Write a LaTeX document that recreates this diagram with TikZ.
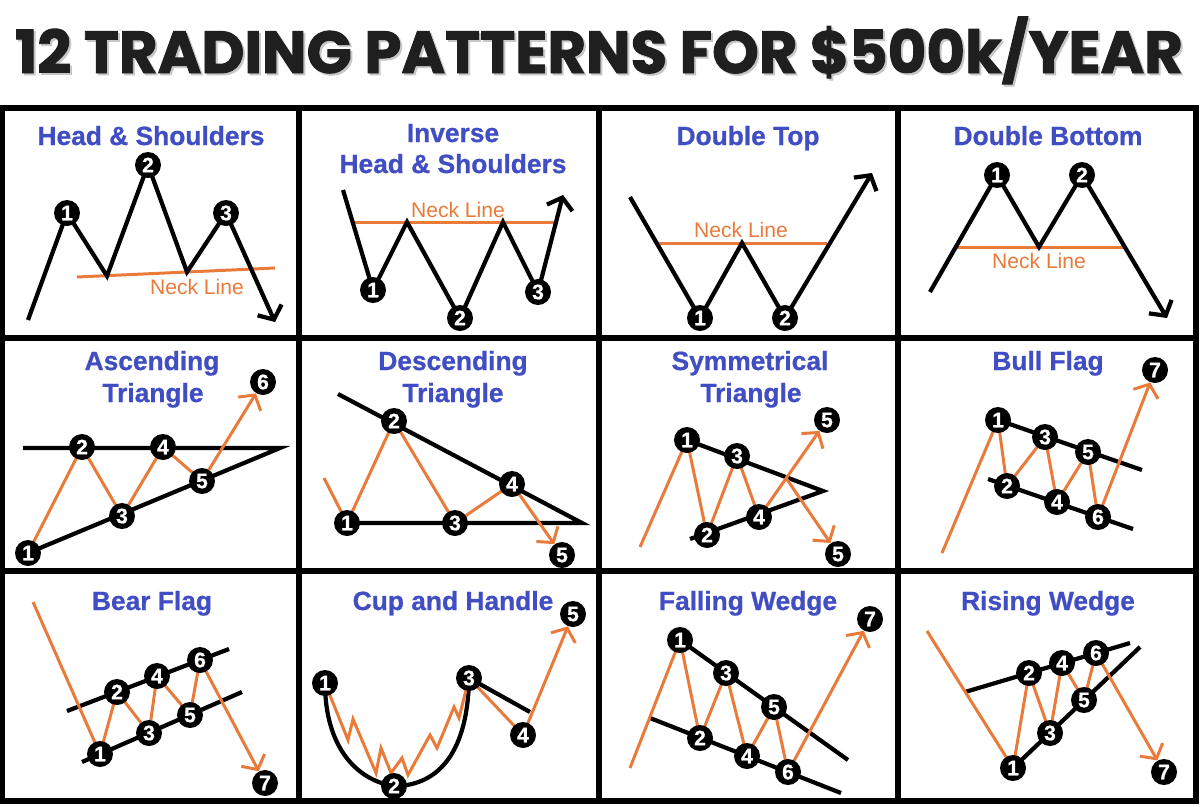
\documentclass[tikz,border=0pt]{standalone}
\usepackage{fontspec}
\setmainfont{Liberation Sans}[BoldFeatures={FakeBold=0.8}]
\newfontfamily\headfont{Poppins}[BoldFeatures={FakeBold=1.6}]
\usetikzlibrary{arrows.meta,positioning}
\definecolor{pblue}{RGB}{65,78,195}
\definecolor{porange}{RGB}{234,122,58}
\pgfdeclarelayer{bg}
\pgfsetlayers{bg,main}

\begin{document}
\begin{tikzpicture}[x=0.02cm,y=-0.02cm,
    ttl/.style={anchor=base,inner sep=0,text=pblue,font=\fontsize{15}{18}\selectfont\bfseries},
    neck/.style={anchor=base,inner sep=0,text=porange,font=\fontsize{12}{14}\selectfont},
    pt/.style={circle,fill=black,text=white,inner sep=0,minimum size=0.52cm,font=\fontsize{12}{12}\selectfont\bfseries},
    blk/.style={line width=2.4pt},
    org/.style={line width=1.7pt,draw=porange},
    arr/.style={-{Straight Barb[length=6pt,width=15pt]}},
    frame/.style={line width=2.9pt}]
    \useasboundingbox (0,0) rectangle (1200,806);

    % title
    \node[anchor=base,inner sep=0,text=black!22] (mainS) at (601,75) {\resizebox{23.36cm}{!}{\headfont\bfseries 12 TRADING PATTERNS FOR \$500k/YEAR}};
    \node[anchor=base,inner sep=0,text=black!88] (mainT) at (599,73) {\resizebox{23.36cm}{!}{\headfont\bfseries 12 TRADING PATTERNS FOR \$500k/YEAR}};

    % head & shoulders
    \node[ttl] (hsT) at (151,145) {Head \& Shoulders};
    \node[pt] (hs1) at (67,213) {1};
    \node[pt] (hs2) at (148,165) {2};
    \node[pt] (hs3) at (226,213) {3};
    \coordinate (hs0) at (28,320);
    \coordinate (hsa) at (107,276);
    \coordinate (hsb) at (187,272);
    \coordinate (hsE) at (275,322);
    \coordinate (hsN1) at (77,277);
    \coordinate (hsN2) at (275,268);
    \node[neck] (hsL) at (197,294) {Neck Line};

    % inverse head & shoulders
    \node[ttl] (ihT1) at (453,142) {Inverse};
    \node[ttl] (ihT2) at (453,173) {Head \& Shoulders};
    \node[pt] (ih1) at (373,290) {1};
    \node[pt] (ih2) at (460,318) {2};
    \node[pt] (ih3) at (538,292) {3};
    \coordinate (ih0) at (343,190);
    \coordinate (iha) at (407,222);
    \coordinate (ihb) at (503,222);
    \coordinate (ihE) at (563,195);
    \coordinate (ihN1) at (352,222);
    \coordinate (ihN2) at (555,222);
    \node[neck] (ihL) at (458,217) {Neck Line};

    % double top
    \node[ttl] (dtT) at (748,145) {Double Top};
    \node[pt] (dt1) at (700,318) {1};
    \node[pt] (dt2) at (785,318) {2};
    \coordinate (dt0) at (630,197);
    \coordinate (dta) at (742,243);
    \coordinate (dtE) at (872,173);
    \coordinate (dtN1) at (657,243);
    \coordinate (dtN2) at (827,243);
    \node[neck] (dtL) at (741,237) {Neck Line};

    % double bottom
    \node[ttl] (dbT) at (1048,145) {Double Bottom};
    \node[pt] (db1) at (997,175) {1};
    \node[pt] (db2) at (1082,175) {2};
    \coordinate (db0) at (930,292);
    \coordinate (dba) at (1039,247);
    \coordinate (dbE) at (1167,318);
    \coordinate (dbN1) at (955,247);
    \coordinate (dbN2) at (1123,247);
    \node[neck] (dbL) at (1039,268) {Neck Line};

    % ascending triangle
    \node[ttl] (atT1) at (152,370) {Ascending};
    \node[ttl] (atT2) at (153,402) {Triangle};
    \node[pt] (at1) at (28,553) {1};
    \node[pt] (at2) at (82,447) {2};
    \node[pt] (at3) at (122,516) {3};
    \node[pt] (at4) at (163,447) {4};
    \node[pt] (at5) at (202,481) {5};
    \node[pt] (at6) at (263,382) {6};
    \coordinate (atH) at (23,448);
    \coordinate (atA) at (280,448);

    % descending triangle
    \node[ttl] (dsT1) at (453,370) {Descending};
    \node[ttl] (dsT2) at (453,402) {Triangle};
    \node[pt] (ds1) at (347,523) {1};
    \node[pt] (ds2) at (394,421) {2};
    \node[pt] (ds3) at (455,523) {3};
    \node[pt] (ds4) at (512,484) {4};
    \node[pt] (ds5) at (562,555) {5};
    \coordinate (ds0) at (324,478);
    \coordinate (dsS) at (338,394);
    \coordinate (dsA) at (582,523);

    % symmetrical triangle
    \node[ttl] (syT1) at (750,370) {Symmetrical};
    \node[ttl] (syT2) at (751,402) {Triangle};
    \node[pt] (sy1) at (687,440) {1};
    \node[pt] (sy2) at (707,535) {2};
    \node[pt] (sy3) at (737,456) {3};
    \node[pt] (sy4) at (759,517) {4};
    \node[pt] (sy5a) at (827,420) {5};
    \node[pt] (sy5b) at (838,554) {5};
    \coordinate (sy0) at (640,547);
    \coordinate (syS) at (690,539);
    \coordinate (syA) at (823,491);
    \coordinate (syB) at (786,478);

    % bull flag
    \node[ttl] (bfT) at (1048,370) {Bull Flag};
    \node[pt] (bf1) at (998,420) {1};
    \node[pt] (bf2) at (1007,486) {2};
    \node[pt] (bf3) at (1045,437) {3};
    \node[pt] (bf4) at (1057,502) {4};
    \node[pt] (bf5) at (1088,452) {5};
    \node[pt] (bf6) at (1098,517) {6};
    \node[pt] (bf7) at (1155,370) {7};
    \coordinate (bf0) at (942,553);
    \coordinate (bfU) at (1142,470);
    \coordinate (bfL1) at (988,479);
    \coordinate (bfL2) at (1133,529);

    % bear flag
    \node[ttl] (brT) at (152,610) {Bear Flag};
    \node[pt] (br1) at (100,754) {1};
    \node[pt] (br2) at (117,692) {2};
    \node[pt] (br3) at (149,733) {3};
    \node[pt] (br4) at (157,676) {4};
    \node[pt] (br5) at (190,715) {5};
    \node[pt] (br6) at (200,660) {6};
    \node[pt] (br7) at (265,783) {7};
    \coordinate (br0) at (33,602);
    \coordinate (brU1) at (67,711);
    \coordinate (brU2) at (229,649);
    \coordinate (brL1) at (82,762);
    \coordinate (brL2) at (242,692);

    % cup and handle
    \node[ttl] (chT) at (453,610) {Cup and Handle};
    \node[pt] (ch1) at (325,683) {1};
    \node[pt] (ch2) at (394,786) {2};
    \node[pt] (ch3) at (469,678) {3};
    \node[pt] (ch4) at (523,735) {4};
    \node[pt] (ch5) at (573,614) {5};
    \coordinate (chH) at (530,712);

    % falling wedge
    \node[ttl] (fwT) at (748,610) {Falling Wedge};
    \node[pt] (fw1) at (680,640) {1};
    \node[pt] (fw2) at (700,738) {2};
    \node[pt] (fw3) at (726,673) {3};
    \node[pt] (fw4) at (747,756) {4};
    \node[pt] (fw5) at (774,707) {5};
    \node[pt] (fw6) at (788,772) {6};
    \node[pt] (fw7) at (870,619) {7};
    \coordinate (fw0) at (630,768);
    \coordinate (fwU) at (848,760);
    \coordinate (fwL1) at (650,718);
    \coordinate (fwL2) at (841,793);

    % rising wedge
    \node[ttl] (rwT) at (1048,610) {Rising Wedge};
    \node[pt] (rw1) at (1013,768) {1};
    \node[pt] (rw2) at (1029,673) {2};
    \node[pt] (rw3) at (1050,733) {3};
    \node[pt] (rw4) at (1062,663) {4};
    \node[pt] (rw5) at (1084,700) {5};
    \node[pt] (rw6) at (1096,653) {6};
    \node[pt] (rw7) at (1164,772) {7};
    \coordinate (rw0) at (927,631);
    \coordinate (rwU1) at (965,692);
    \coordinate (rwU2) at (1130,643);
    \coordinate (rwL) at (1140,647);

    \begin{pgfonlayer}{bg}
    % grid
    \draw[frame] (2.5,108) rectangle (1196,801);
    \draw[frame] (299,108) -- (299,801);
    \draw[frame] (599,108) -- (599,801);
    \draw[frame] (898,108) -- (898,801);
    \draw[frame] (2.5,338) -- (1196,338);
    \draw[frame] (2.5,571) -- (1196,571);

    % row 1
    \draw[org] (hsN1) -- (hsN2);
    \draw[blk,arr] (hs0) -- (hs1.center) -- (hsa) -- (hs2.center) -- (hsb) -- (hs3.center) -- (hsE);
    \draw[org] (ihN1) -- (ihN2);
    \draw[blk,arr] (ih0) -- (ih1.center) -- (iha) -- (ih2.center) -- (ihb) -- (ih3.center) -- (ihE);
    \draw[org] (dtN1) -- (dtN2);
    \draw[blk,arr] (dt0) -- (dt1.center) -- (dta) -- (dt2.center) -- (dtE);
    \draw[org] (dbN1) -- (dbN2);
    \draw[blk,arr] (db0) -- (db1.center) -- (dba) -- (db2.center) -- (dbE);

    % row 2
    \draw[blk] (atH) -- (atA) -- (at1.center);
    \draw[org,arr] (at1.center) -- (at2.center) -- (at3.center) -- (at4.center) -- (at5.center) -- (at6);
    \draw[blk] (dsS) -- (dsA) -- (ds1.center);
    \draw[org,arr] (ds0) -- (ds1.center) -- (ds2.center) -- (ds3.center) -- (ds4.center) -- (ds5);
    \draw[blk] (sy1.center) -- (syA) -- (syS);
    \draw[org,arr] (sy0) -- (sy1.center) -- (sy2.center) -- (sy3.center) -- (sy4.center) -- (sy5a);
    \draw[org,arr] (syB) -- (sy5b);
    \draw[blk] (bf1.center) -- (bfU);
    \draw[blk] (bfL1) -- (bfL2);
    \draw[org,arr] (bf0) -- (bf1.center) -- (bf2.center) -- (bf3.center) -- (bf4.center) -- (bf5.center) -- (bf6.center) -- (bf7);

    % row 3
    \draw[blk] (brU1) -- (brU2);
    \draw[blk] (brL1) -- (brL2);
    \draw[org,arr] (br0) -- (br1.center) -- (br2.center) -- (br3.center) -- (br4.center) -- (br5.center) -- (br6.center) -- (br7);
    \draw[blk] (ch1.center) .. controls (325,745) and (355,780) .. (ch2.center) .. controls (440,786) and (468,750) .. (ch3.center) -- (chH);
    \draw[org] (ch1.center) -- (348,740) -- (353,719) -- (376,773) -- (381,748) -- (391,773) -- (402,758) -- (408,775) -- (430,735) -- (437,748) -- (454,707) -- (459,718) -- (ch3.center) -- (ch4.center);
    \draw[org,arr] (ch4.center) -- (ch5);
    \draw[blk] (fw1.center) -- (fwU);
    \draw[blk] (fwL1) -- (fwL2);
    \draw[org,arr] (fw0) -- (fw1.center) -- (fw2.center) -- (fw3.center) -- (fw4.center) -- (fw5.center) -- (fw6.center) -- (fw7);
    \draw[blk] (rwU1) -- (rwU2);
    \draw[blk] (rw1.center) -- (rwL);
    \draw[org,arr] (rw0) -- (rw1.center) -- (rw2.center) -- (rw3.center) -- (rw4.center) -- (rw5.center) -- (rw6.center) -- (rw7);
    \end{pgfonlayer}
\end{tikzpicture}
\end{document}
